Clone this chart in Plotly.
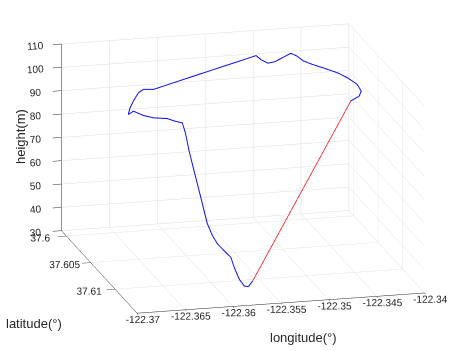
import plotly.graph_objects as go

# flight path (blue)
lon = [-122.355760, -122.356816, -122.357357, -122.357664, -122.357841, -122.358100,
       -122.358784, -122.359563, -122.360248, -122.360940, -122.361328, -122.361687,
       -122.362046, -122.362404, -122.362894, -122.363048, -122.363670, -122.364247,
       -122.365509, -122.366290, -122.366890, -122.367683, -122.366909, -122.365985,
       -122.364731, -122.363938, -122.362948, -122.361661, -122.359724, -122.350277,
       -122.350162, -122.349798, -122.349027, -122.347798, -122.346684, -122.346338,
       -122.346127, -122.345501, -122.344469, -122.343464, -122.342851, -122.342545,
       -122.342726, -122.343377, -122.344229, -122.344632]
lat = [37.610246, 37.611409, 37.611646, 37.611215, 37.610530, 37.610356,
       37.610314, 37.610480, 37.610791, 37.611115, 37.611175, 37.610847,
       37.610518, 37.610189, 37.610468, 37.610088, 37.609925, 37.609342,
       37.609051, 37.608518, 37.607629, 37.608153, 37.606984, 37.605853,
       37.604423, 37.603899, 37.604024, 37.603562, 37.602861, 37.600163,
       37.600971, 37.601641, 37.601492, 37.600815, 37.600199, 37.600697,
       37.601668, 37.602153, 37.602877, 37.603673, 37.604534, 37.605650,
       37.606894, 37.607757, 37.608274, 37.608506]
height = [30, 30.5, 31.5, 33.5, 37, 41, 44, 47.5, 52, 58, 64, 72, 80, 88, 96, 99.5,
          100, 100, 100, 100, 100, 100, 100, 100, 100, 100, 100, 100, 100, 102,
          102, 102, 102, 102, 102, 102, 102, 101.5, 101, 100.5, 100, 100, 100, 100, 100, 100]

# straight connection (red)
red_lon = [-122.344632, -122.355760]
red_lat = [37.608506, 37.610246]
red_h = [100, 30]

lon_ticks = [-122.37, -122.365, -122.36, -122.355, -122.35, -122.345, -122.34]
lon_text = ["-122.37", "-122.365", "-122.36", "-122.355", "-122.35", "-122.345", "-122.34"]
lat_ticks = [37.6, 37.605, 37.61]
lat_text = ["37.6", "37.605", "37.61"]
h_ticks = [30, 40, 50, 60, 70, 80, 90, 100, 110]

fig = go.Figure()
fig.add_trace(go.Scatter3d(x=lon, y=lat, z=height, mode="lines",
                           line=dict(color="#1010e0", width=2), showlegend=False))
fig.add_trace(go.Scatter3d(x=red_lon, y=red_lat, z=red_h, mode="lines",
                           line=dict(color="#e81010", width=1.5), showlegend=False))

FONT = "Liberation Sans, Arial, sans-serif"
tickfont = dict(family=FONT, size=11, color="#262626")
titlefont = dict(family=FONT, size=13, color="#262626")
common = dict(showbackground=False, gridcolor="#dedede", gridwidth=1, showline=True,
              linecolor="#262626", linewidth=1, ticks="outside", tickcolor="#262626",
              zeroline=False, showspikes=False, tickfont=tickfont)

s = 1.76
k = 1.6 * s
fig.update_layout(
    width=474, height=351, margin=dict(l=0, r=0, t=0, b=0),
    paper_bgcolor="white",
    scene=dict(
        xaxis=dict(title=dict(text=""), range=[-122.37, -122.34], ticklen=9,
                   tickvals=lon_ticks, ticktext=lon_text, tickangle=0, **common),
        yaxis=dict(title=dict(text=""), range=[37.6145, 37.599], ticklen=5,
                   tickvals=lat_ticks, ticktext=lat_text, tickangle=0, **common),
        zaxis=dict(title=dict(text=""), range=[30, 110], ticklen=4,
                   tickvals=h_ticks, **common),
        aspectmode="manual", aspectratio=dict(x=1 * s, y=1.036 * s, z=0.655 * s),
        camera=dict(projection=dict(type="orthographic"),
                    eye=dict(x=-0.2364 * k, y=-0.931 * k, z=0.277 * k),
                    up=dict(x=0, y=0, z=1), center=dict(x=0, y=0, z=0)),
        domain=dict(x=[0.0243, 1], y=[0.04, 1]),
    ),
    annotations=[
        dict(text="height(m)", x=20, y=351 - 137, xref="paper", yref="paper",
             showarrow=False, textangle=-90, font=titlefont, xanchor="center", yanchor="middle"),
        dict(text="latitude(°)", x=34, y=351 - 323, showarrow=False, font=titlefont,
             xanchor="center", yanchor="middle"),
        dict(text="longitude(°)", x=303, y=351 - 337, showarrow=False, font=titlefont,
             xanchor="center", yanchor="middle"),
    ],
)
# annotation positions are given in pixels; convert to paper fractions
for a in fig.layout.annotations:
    a.xref = "paper"
    a.yref = "paper"
    a.x = a.x / 474
    a.y = a.y / 351
fig.write_html("out.html")
